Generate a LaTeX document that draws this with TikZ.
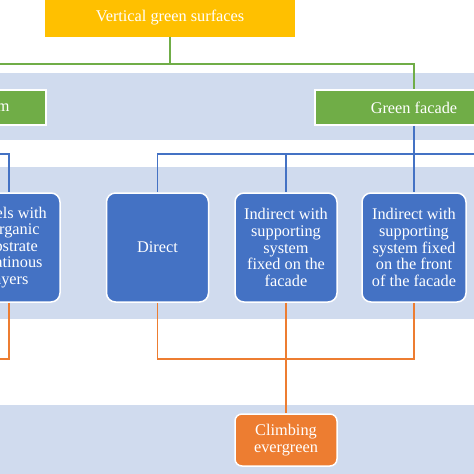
\documentclass[tikz,border=0pt]{standalone}
\usepackage{fontspec}
\setmainfont{Liberation Serif}
\definecolor{cyellow}{HTML}{FFC000}
\definecolor{cgreen}{HTML}{70AD47}
\definecolor{cblue}{HTML}{4472C4}
\definecolor{corange}{HTML}{ED7D31}
\definecolor{cband}{HTML}{D0DBEE}
\tikzset{
  txt/.style={text=white, font=\fontsize{16.3}{16.6}\selectfont, align=center, inner sep=0pt},
  topbox/.style={txt, fill=cyellow, minimum width=250pt, minimum height=37pt},
  greenbox/.style={txt, fill=cgreen, draw=white, line width=1.5pt, minimum width=198pt, minimum height=35pt},
  bluebox/.style={txt, fill=cblue, draw=white, line width=1.5pt, rounded corners=9pt, minimum width=102pt, minimum height=109pt},
  orangebox/.style={txt, fill=corange, draw=white, line width=1.5pt, rounded corners=7pt, minimum width=102pt, minimum height=52pt},
  gline/.style={draw=cgreen, line width=1.6pt},
  bline/.style={draw=cblue, line width=1.6pt},
  oline/.style={draw=corange, line width=1.6pt},
}
\begin{document}
\begin{tikzpicture}[x=1pt,y=-1pt]
\useasboundingbox (0,0) rectangle (474,474);
\clip (0,0) rectangle (474,474);
\fill[white] (0,0) rectangle (474,474);
\fill[cband] (0,73) rectangle (474,140);
\fill[cband] (0,167) rectangle (474,319);
\fill[cband] (0,405) rectangle (474,474);

\node[topbox] (top) at (170,18) {Vertical green surfaces};
\node[greenbox] (lw) at (-53,107.5) {Living wall system};
\node[greenbox] (gf) at (414,107.5) {Green facade};

\node[bluebox] (pan) at (9,247.5) {Panels with\\inorganic\\substrate\\gelatinous\\layers};
\node[bluebox] (dir) at (157.5,247.5) {Direct};
\node[bluebox] (ind1) at (286,247.5) {Indirect with\\supporting\\system\\fixed on the\\facade};
\node[bluebox, minimum width=104pt] (ind2) at (414,247.5) {Indirect with\\supporting\\system fixed\\on the front\\of the facade};

\node[orangebox] (climb) at (286,440) {Climbing\\evergreen};

\coordinate (gj) at (170,64);
\coordinate (bj) at (414,154);
\coordinate (bl) at (-53,154);
\coordinate (br) at (490,154);
\coordinate (oj) at (286,359);
\coordinate (ol) at (-60,359);

\draw[gline] (top.south) -- (gj);
\draw[gline] (gj) -| (gf.north);
\draw[gline] (gj) -| (lw.north);

\draw[bline] (gf.south) -- (bj);
\draw[bline] (bj) -| (dir.north);
\draw[bline] (bj) -- (ind2.north);
\draw[bline] (bj) -| (ind1.north);
\draw[bline] (bj) -- (br);
\draw[bline] (lw.south) |- (bl) -| (pan.north);

\draw[oline] (dir.south) |- (oj);
\draw[oline] (ind2.south) |- (oj);
\draw[oline] (ind1.south) -- (climb.north);
\draw[oline] (pan.south) |- (ol);
\end{tikzpicture}
\end{document}
